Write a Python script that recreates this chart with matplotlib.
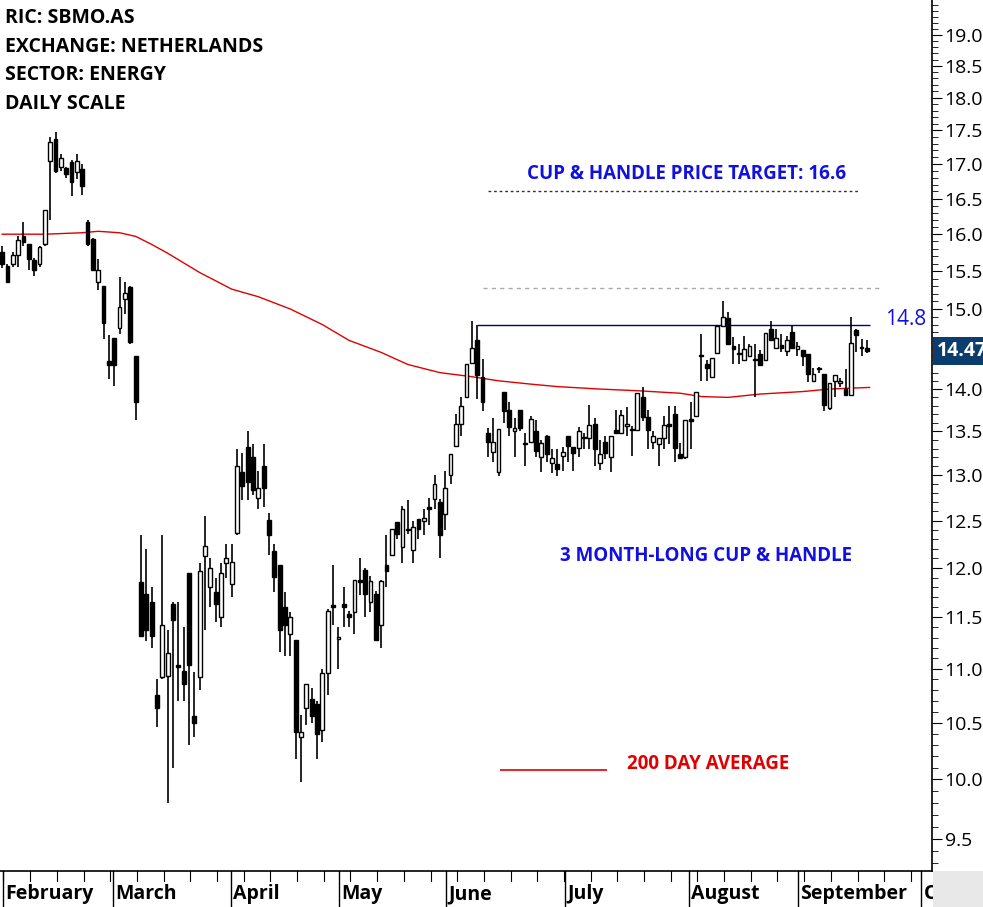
import numpy as np
import matplotlib
matplotlib.use("Agg")
import matplotlib.pyplot as plt
from matplotlib.ticker import FixedLocator, NullFormatter

# Daily OHLC
opens = [15.76,15.57,15.60,15.71,15.98,15.86,15.65,15.60,15.87,17.04,17.37,16.95,16.94,17.03,16.88,16.93,16.17,15.93,15.36,15.30,14.34,14.63,14.76,15.13,15.29,14.40,
 11.85,11.73,11.65,10.75,10.92,10.93,11.63,11.03,10.98,11.95,10.56,10.92,12.12,11.80,11.75,11.50,12.05,11.83,12.37,
 13.03,13.32,13.20,12.75,13.10,12.51,12.18,12.03,11.60,11.33,11.28,10.37,10.63,10.72,10.67,10.43,10.96,11.62,11.29,11.63,11.53,11.55,11.88,11.98,11.65,11.73,11.42,12.03,12.13,12.48,12.22,12.40,12.19,12.52,12.49,12.64,12.73,12.70,12.57,13.00,13.33,13.58,13.90,14.32,14.60,
 14.15,13.48,13.26,13.03,13.96,13.75,13.50,13.75,13.36,13.37,13.50,13.20,13.45,13.14,13.12,13.21,13.45,13.32,13.31,13.43,13.42,13.59,13.14,13.37,13.20,13.52,13.48,13.56,13.52,13.52,13.90,13.67,13.37,13.35,13.42,13.59,13.70,13.24,13.20,13.64,13.68,14.42,14.31,
 14.15,14.44,14.78,14.88,14.53,14.44,14.35,14.41,14.37,14.43,14.35,14.75,14.51,14.54,14.47,14.70,14.49,14.48,14.43,14.10,14.25,14.18,13.77,14.10,14.07,14.00,13.93,14.73,14.52,14.50]
closes = [15.59,15.36,15.71,15.92,15.89,15.66,15.52,15.82,16.34,17.33,16.89,17.08,16.85,16.74,17.04,16.68,15.87,15.51,15.52,14.82,14.29,14.29,15.03,15.21,14.58,13.85,
 11.32,11.37,11.32,10.63,11.42,11.15,11.47,11.02,10.86,11.04,10.50,11.97,12.23,12.00,11.63,11.95,12.10,12.06,13.10,
 12.88,12.92,12.83,12.86,12.85,12.34,11.91,11.37,11.42,11.50,10.42,10.42,10.86,10.56,10.40,10.96,11.56,11.60,11.31,11.60,11.50,11.88,11.85,11.73,11.86,11.28,11.86,11.97,12.41,12.36,12.63,12.41,12.43,12.41,12.53,12.63,12.90,12.34,12.86,13.24,13.58,13.80,14.30,14.50,14.17,
 13.85,13.37,13.38,13.53,13.74,13.55,13.54,13.54,13.35,13.64,13.27,13.36,13.24,13.19,13.07,13.26,13.33,13.25,13.50,13.42,13.57,13.30,13.24,13.25,13.45,13.48,13.69,13.58,13.51,13.95,13.67,13.52,13.44,13.42,13.57,13.56,13.31,13.19,13.63,13.62,13.97,14.41,14.26,
 14.38,14.78,14.90,14.56,14.49,14.43,14.49,14.53,14.36,14.29,14.69,14.60,14.63,14.50,14.60,14.51,14.53,14.40,14.18,14.18,14.24,13.81,14.07,14.17,14.10,13.93,14.57,14.67,14.51,14.47]
highs = [15.84,15.60,15.75,15.98,16.17,15.86,15.68,15.84,16.34,17.40,17.48,17.15,16.95,17.05,17.15,17.00,16.20,15.95,15.66,15.30,14.67,14.63,15.42,15.36,15.30,14.40,
 12.35,12.20,11.80,10.90,12.35,11.37,11.65,11.65,11.40,11.95,10.97,12.05,12.55,12.10,11.90,12.05,12.25,12.25,13.30,
 13.25,13.50,13.35,13.05,13.35,12.58,12.25,12.03,11.75,11.55,11.28,10.57,10.86,10.82,10.70,11.00,11.58,12.03,11.40,11.80,11.56,11.88,12.10,12.00,11.92,11.76,11.88,12.35,12.41,12.48,12.66,12.72,12.50,12.52,12.62,12.74,13.00,12.73,13.05,13.24,13.70,13.90,14.30,14.85,14.80,
 14.37,13.54,13.65,13.53,13.96,13.85,13.66,13.75,13.48,13.68,13.63,13.40,13.46,13.30,13.29,13.32,13.45,13.32,13.55,13.48,13.81,13.65,13.40,13.45,13.45,13.75,13.75,13.78,13.56,13.95,14.03,13.75,13.50,13.42,13.68,13.80,13.80,13.36,13.63,13.85,13.97,14.68,14.36,
 14.38,14.80,15.10,14.96,14.64,14.56,14.65,14.55,14.55,14.48,14.69,14.85,14.75,14.68,14.65,14.78,14.58,14.48,14.43,14.26,14.27,14.18,14.07,14.17,14.13,14.25,14.90,14.75,14.62,14.60]
lows = [15.54,15.35,15.55,15.55,15.84,15.52,15.43,15.55,15.84,16.20,16.87,16.90,16.80,16.53,16.78,16.55,15.84,15.50,15.25,14.62,14.12,14.04,14.68,14.93,14.55,13.63,
 11.32,11.27,11.20,10.46,10.90,9.80,10.10,10.70,10.70,10.30,10.37,10.80,11.37,11.60,11.45,11.40,11.90,11.70,12.35,
 12.72,12.72,12.78,12.62,12.65,12.13,11.75,11.16,11.12,11.12,10.18,9.98,10.48,10.50,10.18,10.33,10.75,11.42,11.00,11.40,11.40,11.33,11.72,11.50,11.55,11.28,11.20,11.80,12.13,12.30,12.05,12.36,12.05,12.30,12.35,12.45,12.62,12.10,12.40,12.90,13.33,13.45,13.90,14.32,13.88,
 13.74,13.20,13.15,12.99,13.60,13.45,13.20,13.50,13.10,13.36,13.20,13.03,13.15,13.02,12.99,13.05,13.15,13.05,13.20,13.30,13.30,13.10,13.06,13.18,13.03,13.48,13.48,13.44,13.22,13.52,13.62,13.30,13.30,13.10,13.30,13.35,13.15,13.19,13.18,13.30,13.70,14.10,14.10,
 14.15,14.44,14.78,14.56,14.30,14.30,14.35,14.40,13.90,14.28,14.35,14.60,14.51,14.45,14.40,14.51,14.40,14.28,14.08,14.09,14.20,13.74,13.75,13.90,14.02,13.93,13.93,14.45,14.40,14.44]

# 200 day average (sampled)
ma_days = [0,8,15,18,22,25,28,31,37,43,48,54,60,65,71,76,82,88,93,99,104,112,119,127,131,136,142,150,155,162.5]
ma_vals = [16.00,16.00,16.02,16.04,16.02,15.97,15.86,15.74,15.48,15.26,15.16,15.00,14.80,14.60,14.45,14.30,14.20,14.15,14.10,14.06,14.03,14.00,13.98,13.95,13.91,13.90,13.94,13.97,14.00,14.02]

month_names = ["February","March","April","May","June","July","August","September","O"]
month_starts = [0.25,20.7,42.8,63.2,83.2,105.5,128.7,149.1,172.2]

last_price = 14.47
resistance = 14.8
target = 16.6
upper_band = 15.28

plt.rcParams['font.family'] = ['Open Sans', 'DejaVu Sans']
fig = plt.figure(figsize=(9.83, 9.07), dpi=100)
ax = fig.add_axes([0, 1-871/907, 932/983, 871/907])
ax.set_yscale('log')
ax.set_ylim(9.24, 19.58)
ax.set_xlim(-0.4, 174.2)

n = len(opens)
idx = np.arange(n)
o = np.array(opens); c = np.array(closes); h = np.array(highs); l = np.array(lows)
ax.vlines(idx, l, h, color='black', lw=1.2, zorder=2)
up = c >= o
body_lo = np.minimum(o, c); body_hi = np.maximum(o, c)
hgt = np.maximum(body_hi - body_lo, 0.012)
ax.bar(idx[up], hgt[up], bottom=body_lo[up], width=0.72, color='white', edgecolor='black', lw=1.0, zorder=3)
ax.bar(idx[~up], hgt[~up], bottom=body_lo[~up], width=0.72, color='black', edgecolor='black', lw=1.0, zorder=3)

ax.plot(ma_days, ma_vals, color='#e00000', lw=1.0, zorder=1)

ax.hlines(resistance, 89, 162.5, color='#000080', lw=1.0, zorder=1)
ax.hlines(upper_band, 90, 164.5, color='#aaaaaa', lw=1.0, ls=(0, (3, 3)))
ax.hlines(target, 91, 160.3, color='#333333', lw=1.0, ls=(0, (2, 2)))

ax.text(128.2, 16.85, "CUP & HANDLE PRICE TARGET: 16.6", color='#1010e0', fontsize=13.5, fontweight='bold', ha='center', va='center')
ax.text(131.8, 12.12, "3 MONTH-LONG CUP & HANDLE", color='#1010e0', fontsize=13.5, fontweight='bold', ha='center', va='center')
ax.text(169.3, resistance + 0.06, "14.8", color='#1010e0', fontsize=15, ha='center', va='center')
ax.hlines(10.08, 93.2, 113.3, color='#e00000', lw=1.2)
ax.text(117, 10.13, "200 DAY AVERAGE", color='#e00000', fontsize=13.5, fontweight='bold', ha='left', va='center')

for i, t in enumerate(["RIC: SBMO.AS", "EXCHANGE: NETHERLANDS", "SECTOR: ENERGY", "DAILY SCALE"]):
    fig.text(5/983, 1 - (18 + 28.7*i)/907, t, fontsize=14, fontweight='bold', ha='left', va='center')

# y axis on right
ax.yaxis.tick_right()
major = np.arange(9.5, 19.01, 0.5)
minor = np.arange(9.3, 19.6, 0.1)
ax.yaxis.set_major_locator(FixedLocator(major))
ax.yaxis.set_minor_locator(FixedLocator(minor))
ax.yaxis.set_minor_formatter(NullFormatter())
ax.set_yticklabels([f"{v:.1f}" for v in major])
ax.tick_params(axis='y', which='major', length=7, labelsize=14, pad=2, direction='out')
ax.tick_params(axis='y', which='minor', length=4)
ax.text(1.005, last_price, f"{last_price:.2f}", transform=ax.get_yaxis_transform(), color='white', fontsize=14,
        fontweight='bold', ha='left', va='center', clip_on=False, zorder=10,
        bbox=dict(boxstyle='square,pad=0.2', fc='#0b3d6e', ec='none'))

# x axis
ax.set_xticks([])
for s in ['top', 'left']:
    ax.spines[s].set_visible(False)
ax.spines['bottom'].set_linewidth(1.2)
ax.spines['right'].set_linewidth(1.2)
for ms, name in zip(month_starts, month_names):
    ax.axvline(ms, ymin=-36/871, ymax=0, color='black', lw=1, clip_on=False)
    ax.text(ms + 0.4, -23/871, name, transform=ax.get_xaxis_transform(), fontsize=14, fontweight='bold', ha='left', va='center')
for wk in np.arange(0.25, 174, 5.0):
    ax.axvline(wk, ymin=-10/871, ymax=0, color='black', lw=0.8, clip_on=False)

fig.patches.append(matplotlib.patches.Rectangle((933/983, 0), 50/983, 36/907, transform=fig.transFigure, fc='#e8e8e8', ec='none', zorder=5))
fig.savefig("out.png", dpi=100)
